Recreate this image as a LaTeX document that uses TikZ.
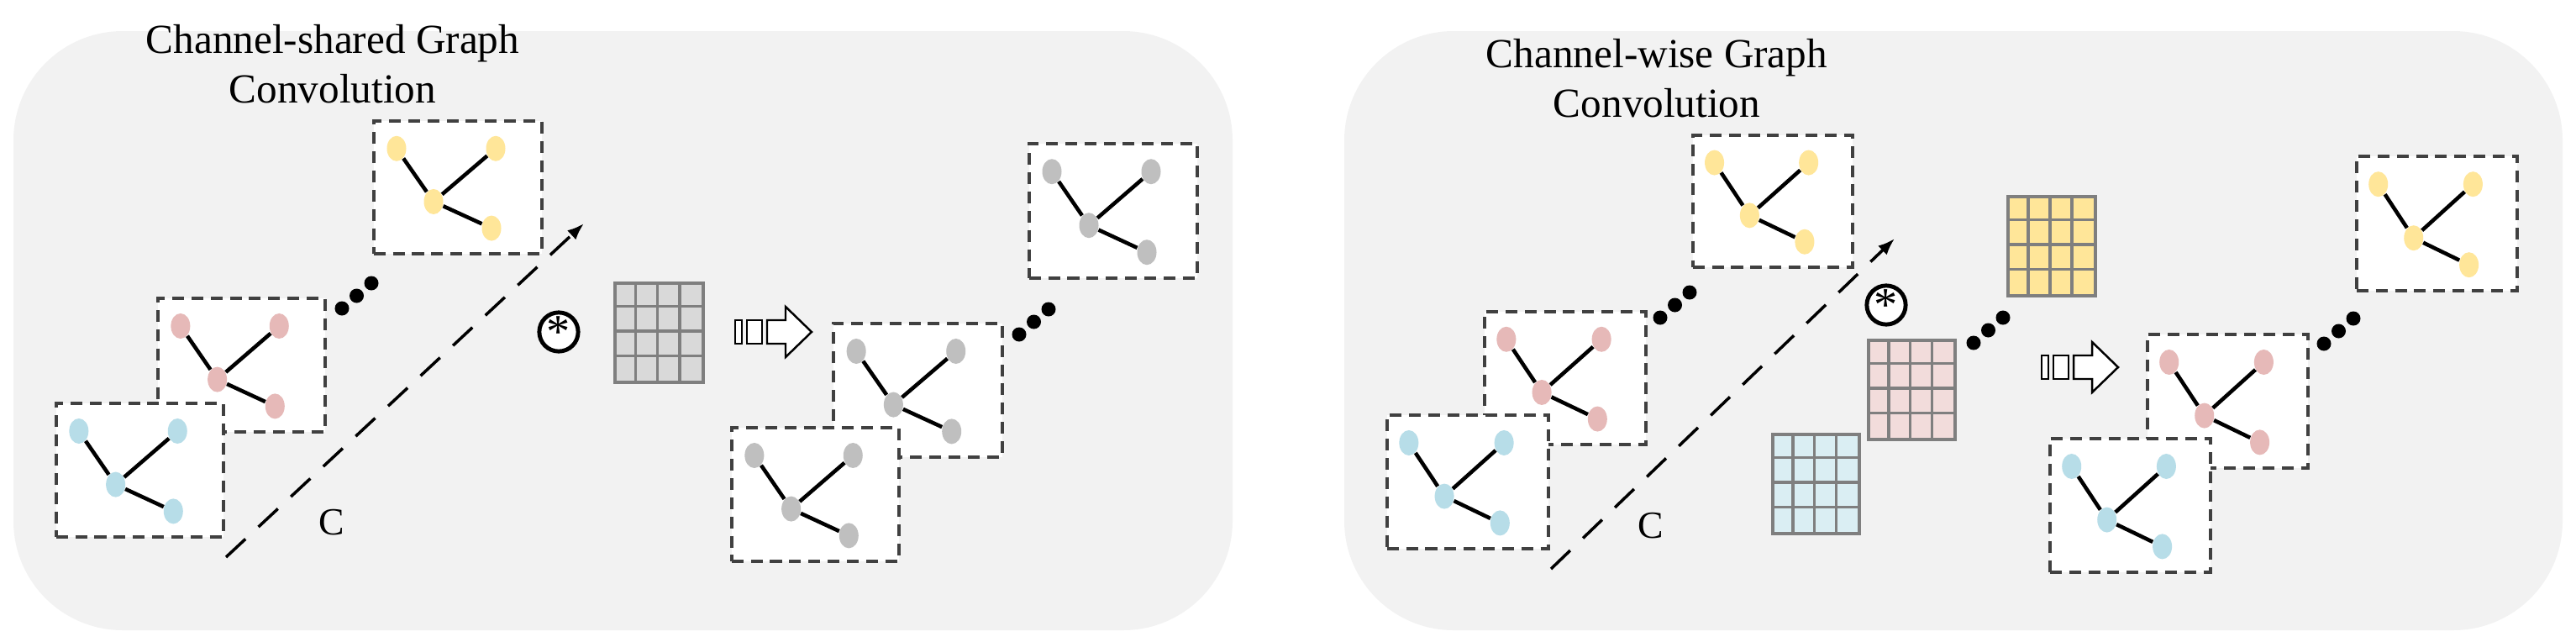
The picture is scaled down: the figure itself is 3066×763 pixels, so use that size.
\documentclass[tikz,border=0pt]{standalone}
\usepackage{fontspec}
\setmainfont{Liberation Serif}
\usetikzlibrary{shapes.geometric,arrows.meta}
\definecolor{panel}{HTML}{F2F2F2}
\definecolor{nY}{HTML}{FFE699}
\definecolor{nP}{HTML}{E6B9B8}
\definecolor{nB}{HTML}{B7DDE8}
\definecolor{nG}{HTML}{BFBFBF}
\definecolor{gY}{HTML}{FFE699}
\definecolor{gP}{HTML}{F2DCDB}
\definecolor{gB}{HTML}{DAEEF3}
\definecolor{gG}{HTML}{D9D9D9}
\definecolor{gline}{HTML}{7F7F7F}
\definecolor{bline}{HTML}{404040}
\tikzset{
  gb/.style={draw=bline, line width=1pt, dash pattern=on 4pt off 2.5pt, fill=white, inner sep=0pt, anchor=north west},
  gn/.style={ellipse, draw=none, inner sep=0pt, minimum width=0.23cm, minimum height=0.30cm},
  ge/.style={line width=1.3pt, black},
  gdot/.style={circle, fill=black, inner sep=0pt, minimum size=0.17cm},
  gridbox/.style={draw=gline, line width=1pt, inner sep=0pt, anchor=north west},
  conv/.style={circle, draw=black, line width=1.4pt, fill=white, inner sep=0pt, minimum size=0.46cm},
  title/.style={align=center, font=\fontsize{14}{16.8}\selectfont},
  chan/.style={font=\fontsize{13}{15}\selectfont},
  hol/.style={draw=black, line width=0.7pt, fill=white},
}
% graph box: name, x, y (top-left), w, h, colour
\newcommand\gbox[6]{%
  \node[gb, minimum width={#4*0.01cm}, minimum height={#5*0.01cm}] (#1) at (#2,#3) {};
  \node[gn, fill=#6] (#1a) at ({#2+0.145*#4},{#3+0.22*#5}) {};
  \node[gn, fill=#6] (#1b) at ({#2+0.735*#4},{#3+0.22*#5}) {};
  \node[gn, fill=#6] (#1c) at ({#2+0.365*#4},{#3+0.62*#5}) {};
  \node[gn, fill=#6] (#1d) at ({#2+0.71*#4},{#3+0.82*#5}) {};
  \draw[ge] (#1a) -- (#1c) (#1b) -- (#1c) (#1c) -- (#1d);
}
% three dots: name, x, y of lower-left dot
\newcommand\gdots[3]{%
  \node[gdot] (#1a) at (#2,#3) {};
  \node[gdot] (#1b) at ({#2+17.5},{#3-15}) {};
  \node[gdot] (#1c) at ({#2+35},{#3-30}) {};
}
% grid: name, x, y, w, h, fill
\newcommand\ggrid[6]{%
  \node[gridbox, fill=#6, minimum width={#4*0.01cm}, minimum height={#5*0.01cm}] (#1) at (#2,#3) {};
  \foreach \k in {1,2,3}{
    \draw[gline, line width=1pt] ({#2+\k*#4/4},#3) -- ({#2+\k*#4/4},{#3+#5});
    \draw[gline, line width=1pt] (#2,{#3+\k*#5/4}) -- ({#2+#4},{#3+\k*#5/4});
  }
}
% hollow arrow: x, y centre
\newcommand\harrow[2]{%
  \draw[hol] (#1,{#2-14}) rectangle ({#1+8},{#2+14});
  \draw[hol] ({#1+14},{#2-14}) rectangle ({#1+32},{#2+14});
  \draw[hol] ({#1+38},{#2-14}) -- ({#1+60},{#2-14}) -- ({#1+60},{#2-30}) -- ({#1+91},#2)
     -- ({#1+60},{#2+30}) -- ({#1+60},{#2+14}) -- ({#1+38},{#2+14}) -- cycle;
}
\begin{document}
\begin{tikzpicture}[x=0.01cm, y=-0.01cm]
\useasboundingbox (0,0) rectangle (3066,763);
% panels
\fill[panel, rounded corners=1.3cm] (16,37) rectangle (1467,750);
\fill[panel, rounded corners=1.3cm] (1600,37) rectangle (3050,750);

% ===== left panel =====
\node[title] (t1) at (396,76) {Channel-shared Graph\\Convolution};
\gbox{ly}{443}{142}{200}{158}{nY}
\gbox{lr}{186}{353}{199}{159}{nP}
\gbox{lb}{65}{478}{199}{159}{nB}
\gdots{ld}{407}{367}
\coordinate (la1) at (269,663);
\coordinate (la2) at (695,266);
\draw[line width=1pt, dash pattern=on 9pt off 6pt, -{Latex[length=0.2cm,width=0.15cm]}] (la1) -- (la2);
\node[chan] (lc) at (395,622) {C};
\node[conv] (lconv) at (665,395) {\fontsize{16}{16}\selectfont *};
\ggrid{lgrid}{730}{335}{105}{118}{gG}
\harrow{875}{395}
\gbox{og1}{1223}{169}{200}{160}{nG}
\gbox{og2}{990}{383}{201}{159}{nG}
\gbox{og3}{869}{507}{199}{159}{nG}
\gdots{lod}{1213}{398}

% ===== right panel =====
\node[title] (t2) at (1972,93) {Channel-wise Graph\\Convolution};
\gbox{ry}{2013}{159}{190}{157}{nY}
\gbox{rr}{1765}{369}{192}{158}{nP}
\gbox{rb}{1649}{492}{192}{159}{nB}
\gdots{rd}{1976}{378}
\coordinate (ra1) at (1846,677);
\coordinate (ra2) at (2255,284);
\draw[line width=1pt, dash pattern=on 9pt off 6pt, -{Latex[length=0.2cm,width=0.15cm]}] (ra1) -- (ra2);
\node[chan] (rc) at (1965,626) {C};
\node[conv] (rconv) at (2245,363) {\fontsize{16}{16}\selectfont *};
\ggrid{rgy}{2388}{232}{104}{118}{gY}
\ggrid{rgp}{2222}{403}{103}{118}{gP}
\ggrid{rgb}{2108}{515}{103}{118}{gB}
\gdots{rmd}{2349}{408}
\harrow{2430}{437}
\gbox{oy}{2803}{184}{191}{160}{nY}
\gbox{or}{2554}{396}{191}{159}{nP}
\gbox{ob}{2438}{520}{191}{159}{nB}
\gdots{rod}{2766}{409}
\end{tikzpicture}
\end{document}
